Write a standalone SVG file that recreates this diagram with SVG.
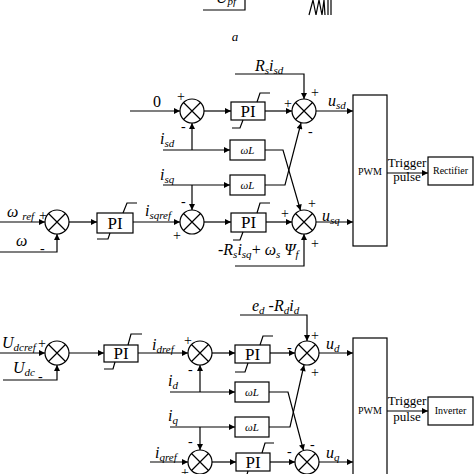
<svg xmlns="http://www.w3.org/2000/svg" width="474" height="474" viewBox="0 0 474 474">
<style>
.ln{fill:none;stroke:#000;stroke-width:1.2}
.bx{fill:#fff;stroke:#000;stroke-width:1.2}
.ar{fill:none;stroke:#000;stroke-width:1.2;marker-end:url(#ah)}
text{font-family:"Liberation Serif","Times New Roman",serif;fill:#000}
.m{font-size:16px;font-style:italic}
.s{font-size:11px;font-style:italic}
.sg{font-size:14px}
.pi{font-size:17px;text-anchor:middle}
.wl{font-size:11px;font-style:italic;text-anchor:middle}
.sm{font-size:10px;text-anchor:middle}
.tp{font-size:13px;text-anchor:middle}
</style>
<defs>
<marker id="ah" viewBox="0 0 10 10" refX="10" refY="5" markerWidth="8" markerHeight="6" markerUnits="userSpaceOnUse" orient="auto">
<path d="M0,0 L10,5 L0,10 z" fill="#000"/>
</marker>
</defs>
<rect width="474" height="474" fill="#fff"/>

<!-- top partial figure -->
<g id="top-fragment">
<path class="ln" d="M203,10 H245 V0"/>
<text x="216" y="3" class="m" font-size="14px">U<tspan class="s" dy="2">pf</tspan></text>
<path class="ln" d="M309,15 L313,0 L316,15 L319,0 L322,15 L324,0 L325,15 M328,0 V15 M331,0 V15"/>
<text x="235" y="41" font-family="Liberation Sans,Arial,sans-serif" font-size="13" font-style="italic" text-anchor="middle">a</text>
</g>

<g id="connectors">
<!-- upper -->
<path class="ar" d="M130,111 H180"/>
<path class="ar" d="M204,111 H231"/>
<path class="ar" d="M265,111 H292"/>
<path class="ar" d="M235,74 H304 V99"/>
<path class="ar" d="M316,111 H353"/>
<path class="ar" d="M163,150 H230"/>
<path class="ar" d="M192,150 V123"/>
<path class="ar" d="M163,185 H230"/>
<path class="ar" d="M192,185 V210"/>
<path class="ar" d="M265,150 H283 L300.5,210.5"/>
<path class="ar" d="M265,185 H285 L301,123"/>
<path class="ar" d="M0,222 H45"/>
<path class="ar" d="M0,252 H57 V234"/>
<path class="ar" d="M69,222 H97"/>
<path class="ar" d="M133,222 H180"/>
<path class="ar" d="M204,222 H231"/>
<path class="ar" d="M266,222 H292"/>
<path class="ar" d="M235,266 H304 V234"/>
<path class="ar" d="M316,222 H353"/>
<path class="ar" d="M387,173 H428"/>
<!-- lower -->
<path class="ar" d="M0,353 H45"/>
<path class="ar" d="M3,380 H57 V365"/>
<path class="ar" d="M69,353 H104"/>
<path class="ar" d="M138,353 H188"/>
<path class="ar" d="M212,353 H235"/>
<path class="ar" d="M270,353 H295"/>
<path class="ar" d="M240,315 H307 V341"/>
<path class="ar" d="M319,353 H353"/>
<path class="ar" d="M170,392 H235"/>
<path class="ar" d="M200,392 V365"/>
<path class="ar" d="M170,427 H235"/>
<path class="ar" d="M200,427 V450"/>
<path class="ar" d="M150,462 H188"/>
<path class="ar" d="M212,462 H236"/>
<path class="ar" d="M270,462 H295"/>
<path class="ar" d="M319,462 H353"/>
<path class="ar" d="M269,392 H288 L303.5,450.5"/>
<path class="ar" d="M269,427 H290 L304,365"/>
<path class="ar" d="M387,411 H428"/>
</g>

<!-- summing junctions -->
<g id="sum1"><circle class="bx" cx="192" cy="111" r="12"/><path class="ln" d="M183.5,102.5 L200.5,119.5 M200.5,102.5 L183.5,119.5"/></g>
<g id="sum2"><circle class="bx" cx="304" cy="111" r="12"/><path class="ln" d="M295.5,102.5 L312.5,119.5 M312.5,102.5 L295.5,119.5"/></g>
<g id="sum3"><circle class="bx" cx="192" cy="222" r="12"/><path class="ln" d="M183.5,213.5 L200.5,230.5 M200.5,213.5 L183.5,230.5"/></g>
<g id="sum4"><circle class="bx" cx="304" cy="222" r="12"/><path class="ln" d="M295.5,213.5 L312.5,230.5 M312.5,213.5 L295.5,230.5"/></g>
<g id="sum5"><circle class="bx" cx="57" cy="222" r="12"/><path class="ln" d="M48.5,213.5 L65.5,230.5 M65.5,213.5 L48.5,230.5"/></g>
<g id="sum6"><circle class="bx" cx="57" cy="353" r="12"/><path class="ln" d="M48.5,344.5 L65.5,361.5 M65.5,344.5 L48.5,361.5"/></g>
<g id="sum7"><circle class="bx" cx="200" cy="353" r="12"/><path class="ln" d="M191.5,344.5 L208.5,361.5 M208.5,344.5 L191.5,361.5"/></g>
<g id="sum8"><circle class="bx" cx="200" cy="462" r="12"/><path class="ln" d="M191.5,453.5 L208.5,470.5 M208.5,453.5 L191.5,470.5"/></g>
<g id="sum9"><circle class="bx" cx="307" cy="353" r="12"/><path class="ln" d="M298.5,344.5 L315.5,361.5 M315.5,344.5 L298.5,361.5"/></g>
<g id="sum10"><circle class="bx" cx="307" cy="462" r="12"/><path class="ln" d="M298.5,453.5 L315.5,470.5 M315.5,453.5 L298.5,470.5"/></g>

<!-- PI blocks -->
<g id="pi-d1"><rect class="bx" x="231" y="102" width="34" height="18"/><path class="ln" d="M257,102 L260,93 H270 M243,120 L240,128 H232"/><text class="pi" x="248" y="117">PI</text></g>
<g id="pi-speed"><rect class="bx" x="97" y="213" width="36" height="20"/><path class="ln" d="M123,213 L127,203 H137 M110,233 L108,239 H97"/><text class="pi" x="115" y="229">PI</text></g>
<g id="pi-q1"><rect class="bx" x="231" y="213" width="35" height="19"/><path class="ln" d="M257,213 L260,203 H270 M243,232 L240,240 H233"/><text class="pi" x="248.5" y="228">PI</text></g>
<g id="pi-dc"><rect class="bx" x="104" y="345" width="34" height="17"/><path class="ln" d="M128,345 L131,334 H142 M115,362 L113,369 H104"/><text class="pi" x="121" y="359">PI</text></g>
<g id="pi-d2"><rect class="bx" x="235" y="345" width="35" height="18"/><path class="ln" d="M260,345 L263,336 H273 M248,363 L245,372 H235"/><text class="pi" x="252.5" y="360">PI</text></g>
<g id="pi-q2"><rect class="bx" x="236" y="453" width="34" height="18"/><path class="ln" d="M262,453 L265,443 H274 M248,471 L246,478"/><text class="pi" x="253" y="468">PI</text></g>

<!-- wL blocks -->
<g id="wl1"><rect class="bx" x="230" y="140" width="35" height="20"/><text class="wl" x="247.5" y="154">ωL</text></g>
<g id="wl2"><rect class="bx" x="230" y="175" width="35" height="20"/><text class="wl" x="247.5" y="189">ωL</text></g>
<g id="wl3"><rect class="bx" x="235" y="382" width="34" height="20"/><text class="wl" x="252" y="396">ωL</text></g>
<g id="wl4"><rect class="bx" x="235" y="417" width="34" height="20"/><text class="wl" x="252" y="431">ωL</text></g>

<!-- PWM, converters -->
<g id="pwm1"><rect class="bx" x="353" y="95" width="34" height="151"/><text class="sm" x="370" y="175">PWM</text></g>
<g id="rectifier"><rect class="bx" x="428" y="157" width="45" height="28"/><text class="sm" x="450.5" y="174">Rectifier</text></g>
<g id="pwm2"><rect class="bx" x="353" y="338" width="34" height="145"/><text class="sm" x="370" y="414">PWM</text></g>
<g id="inverter"><rect class="bx" x="428" y="397" width="45" height="28"/><text class="sm" x="450.5" y="414">Inverter</text></g>

<!-- labels -->
<g id="labels">
<text class="tp" x="407" y="167">Trigger</text>
<text class="tp" x="407" y="181">pulse</text>
<text class="tp" x="407" y="405">Trigger</text>
<text class="tp" x="407" y="421">pulse</text>

<text x="153" y="107" font-size="16">0</text>
<text class="m" x="255" y="71">R<tspan class="s" dy="3">s</tspan><tspan dy="-3">i</tspan><tspan class="s" dy="3">sd</tspan></text>
<text class="m" x="328" y="106">u<tspan class="s" dy="3">sd</tspan></text>
<text class="m" x="160" y="144">i<tspan class="s" dy="3">sd</tspan></text>
<text class="m" x="160" y="180">i<tspan class="s" dy="3">sq</tspan></text>
<text class="m" x="7" y="217">ω<tspan class="s" dx="4" dy="3">ref</tspan></text>
<text class="m" x="16" y="246">ω</text>
<text class="m" x="145" y="216">i<tspan class="s" dy="3">sqref</tspan></text>
<text class="m" x="322" y="221">u<tspan class="s" dy="3">sq</tspan></text>
<text class="m" x="218" y="255" font-size="15px">-R<tspan class="s" dy="3">s</tspan><tspan dy="-3">i</tspan><tspan class="s" dy="3">sq</tspan><tspan dy="-3" font-style="normal">+ </tspan>ω<tspan class="s" dy="3">s</tspan><tspan dy="-3"> Ψ</tspan><tspan class="s" dy="3">f</tspan></text>

<text class="m" x="2" y="348">U<tspan class="s" dy="3">dcref</tspan></text>
<text class="m" x="13" y="373">U<tspan class="s" dy="3">dc</tspan></text>
<text class="m" x="152" y="350">i<tspan class="s" dy="3">dref</tspan></text>
<text class="m" x="252" y="311">e<tspan class="s" dy="3">d</tspan><tspan dy="-3"> -R</tspan><tspan class="s" dy="3">d</tspan><tspan dy="-3">i</tspan><tspan class="s" dy="3">d</tspan></text>
<text class="m" x="326" y="349">u<tspan class="s" dy="3">d</tspan></text>
<text class="m" x="168" y="386">i<tspan class="s" dy="3">d</tspan></text>
<text class="m" x="168" y="421">i<tspan class="s" dy="3">q</tspan></text>
<text class="m" x="155" y="458">i<tspan class="s" dy="3">qref</tspan></text>
<text class="m" x="326" y="458">u<tspan class="s" dy="3">q</tspan></text>
</g>

<!-- signs -->
<g id="signs" class="sg">
<text class="sg" x="177" y="101">+</text><text class="sg" x="181" y="131">-</text>
<text class="sg" x="284" y="108">+</text><text class="sg" x="311" y="97">+</text><text class="sg" x="308" y="136">-</text>
<text class="sg" x="39" y="220">+</text><text class="sg" x="40" y="253">-</text>
<text class="sg" x="181" y="206">-</text><text class="sg" x="173" y="240">+</text>
<text class="sg" x="281" y="218">+</text><text class="sg" x="308" y="208">+</text><text class="sg" x="311" y="248">+</text>
<text class="sg" x="38" y="348">+</text><text class="sg" x="38" y="381">-</text>
<text class="sg" x="184" y="345">+</text><text class="sg" x="188" y="374">-</text>
<text class="sg" x="287" y="352">-</text><text class="sg" x="311" y="340">+</text><text class="sg" x="311" y="377">+</text>
<text class="sg" x="188" y="446">-</text><text class="sg" x="181" y="477">+</text>
<text class="sg" x="310" y="449">-</text><text class="sg" x="287" y="456">-</text>
</g>
</svg>
